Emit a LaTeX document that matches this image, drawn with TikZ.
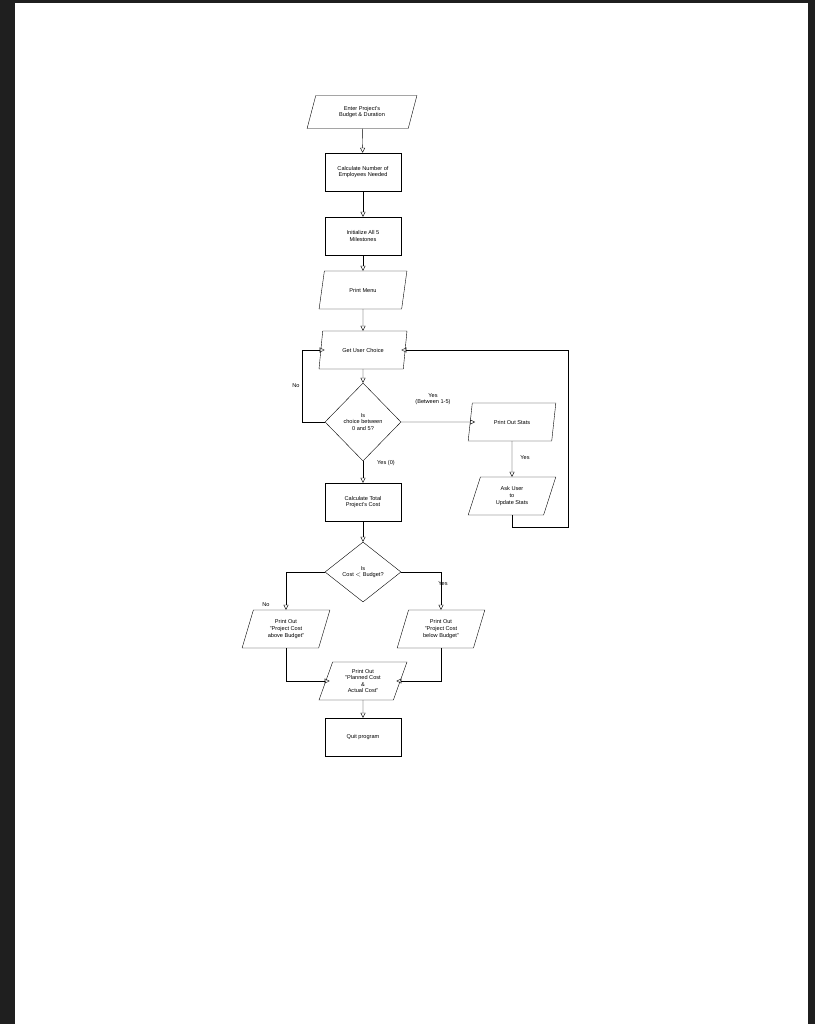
\documentclass[tikz,border=0pt]{standalone}
\usepackage{fontspec}
\setmainfont{Liberation Sans}
\usetikzlibrary{shapes.geometric,arrows.meta}
\begin{document}
\begin{tikzpicture}[x=1pt,y=-1pt,>={Triangle[open,length=5pt,width=5pt]}]
\fontsize{5.6}{6.6}\selectfont

\tikzstyle{proc} = [draw, rectangle, thin, minimum width=76pt, minimum height=38pt, align=center, inner sep=1pt]
\tikzstyle{io}   = [draw, trapezium, trapezium left angle=72, trapezium right angle=108, thin, minimum width=88pt, minimum height=38pt, align=center, inner sep=1pt, trapezium stretches=true]
\tikzstyle{dec}  = [draw, diamond, thin, minimum width=76pt, minimum height=78pt, align=center, inner sep=0pt, shape aspect=1]
\tikzstyle{lbl}  = [black, inner sep=1pt]
\tikzstyle{line} = [draw, thin]

% page
\fill [black!88] (0,0) rectangle (815,1024);
\fill [white] (15,3) rectangle (808,1024);
\useasboundingbox (0,0) rectangle (815,1024);

\node [io, minimum width=110pt, minimum height=33pt] (Enter) at (362,112) {Enter Project's\\Budget \& Duration};
\node [proc] (CalcEmp)  at (363,172) {Calculate Number of\\Employees Needed};
\node [proc] (InitMs)   at (363,236) {Initialize All 5\\Milestones};
\node [io]   (Menu)     at (363,290) {Print Menu};
\node [io]   (Choice)   at (363,350) {Get User Choice};
\node [dec]  (IsChoice) at (363,422) {Is\\choice between\\0 and 5?};
\node [proc] (CalcCost) at (363,502) {Calculate Total\\Project's Cost};
\node [dec, minimum height=60pt] (IsCost) at (363,572) {Is\\Cost $<$ Budget?};
\node [io]   (Above)    at (286,629) {Print Out\\"Project Cost\\above Budget"};
\node [io]   (Below)    at (441,629) {Print Out\\"Project Cost\\below Budget"};
\node [io]   (Planned)  at (363,681) {Print Out\\"Planned Cost\\\&\\Actual Cost"};
\node [proc] (Quit)     at (363,737) {Quit program};
\node [io]   (Stats)    at (512,422) {Print Out Stats};
\node [io]   (AskUser)  at (512,496) {Ask User\\to\\Update Stats};

\draw [line, ->] (Enter) -- (CalcEmp);
\draw [line, ->] (CalcEmp) -- (InitMs);
\draw [line, ->] (InitMs) -- (Menu);
\draw [line, ->] (Menu) -- (Choice);
\draw [line, ->] (Choice) -- (IsChoice);
\draw [line, ->] (IsChoice) -- (CalcCost);
\draw [line, ->] (IsChoice.west) -- ++(-23,0) |- ([xshift=4pt]Choice.west);
\draw [line, ->] (IsChoice.east) -- ([xshift=5pt]Stats.west);
\draw [line, ->] (Stats) -- (AskUser);
\draw [line, ->] (AskUser.south) -- ++(0,12) -| (568,350) -- ([xshift=-4pt]Choice.east);
\draw [line, ->] (CalcCost) -- (IsCost);
\draw [line, ->] (IsCost.west) -| (Above.north);
\draw [line, ->] (IsCost.east) -| (Below.north);
\draw [line, ->] (Above.south) |- ([xshift=4pt]Planned.west);
\draw [line, ->] (Below.south) |- ([xshift=-4pt]Planned.east);
\draw [line, ->] (Planned) -- (Quit);

\node [lbl] (NoA)   at (296,386) {No};
\node [lbl, align=center] (YesA) at (433,399) {Yes\\(Between 1-5)};
\node [lbl] (YesB)  at (386,463) {Yes (0)};
\node [lbl] (YesC)  at (525,458) {Yes};
\node [lbl] (YesD)  at (443,584) {Yes};
\node [lbl] (NoB)   at (266,605) {No};
\end{tikzpicture}
\end{document}
